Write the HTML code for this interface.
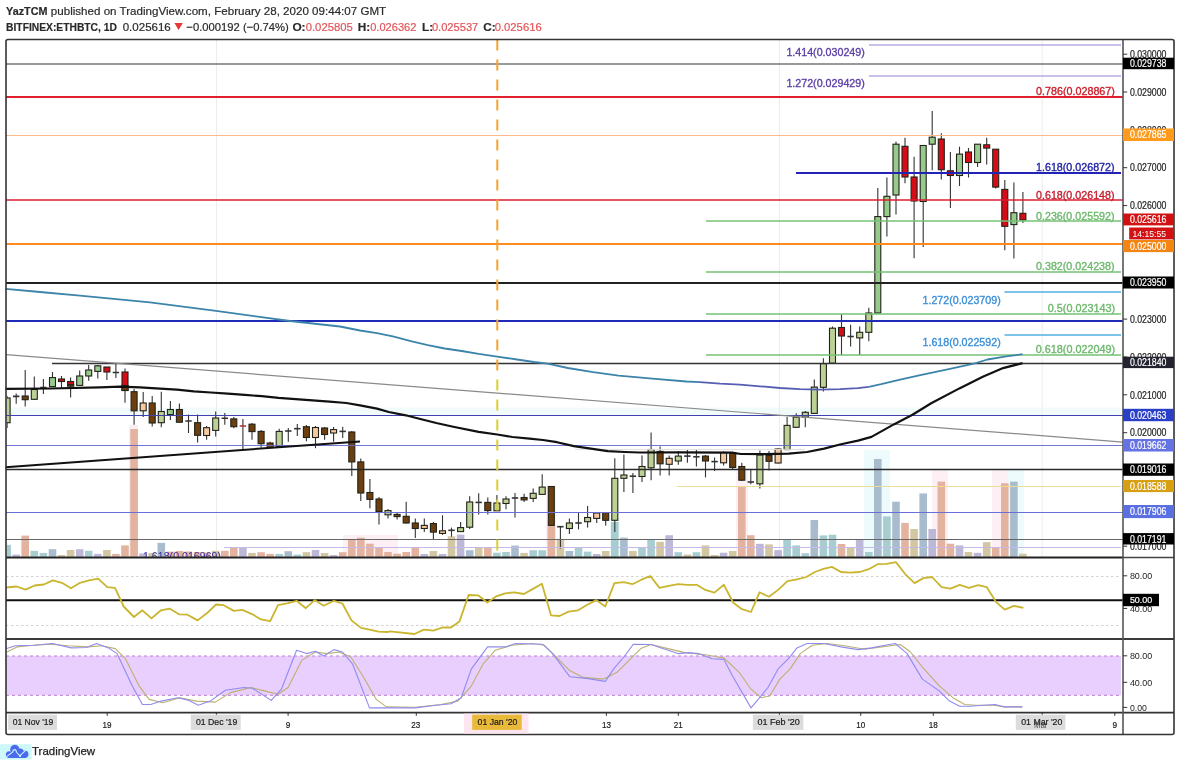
<!DOCTYPE html>
<html><head><meta charset="utf-8"><title>ETHBTC chart</title><style>html,body{margin:0;padding:0;background:#fff;width:1180px;height:768px;overflow:hidden;position:relative}</style></head><body>
<svg width="1180" height="768" viewBox="0 0 1180 768" style="position:absolute;left:0;top:0" font-family="Liberation Sans, sans-serif">
<rect width="1180" height="768" fill="#fff"/>
<defs><clipPath id="pc"><rect x="6.8" y="39.5" width="1116.2" height="517.5"/></clipPath></defs>
<g fill="#2a2a2a" stroke="#2a2a2a" stroke-width="0.2" font-size="11.8">
<text x="6.1" y="14.8" font-weight="bold" textLength="41.4" lengthAdjust="spacingAndGlyphs">YazTCM</text>
<text x="50.8" y="14.8" textLength="335.4" lengthAdjust="spacingAndGlyphs">published on TradingView.com, February 28, 2020 09:44:07 GMT</text>
<text x="6.1" y="30.5" font-weight="bold" textLength="110.8" lengthAdjust="spacingAndGlyphs">BITFINEX:ETHBTC, 1D</text>
<text x="122.7" y="30.5" textLength="48.1" lengthAdjust="spacingAndGlyphs">0.025616</text>
<text x="186.4" y="30.5" textLength="102.4" lengthAdjust="spacingAndGlyphs">−0.000192 (−0.74%)</text>
<text x="292.4" y="30.5" font-weight="bold">O:</text>
<text x="305.7" y="30.5" fill="#e2555a" stroke="#e2555a" textLength="47.1" lengthAdjust="spacingAndGlyphs">0.025805</text>
<text x="357.7" y="30.5" font-weight="bold">H:</text>
<text x="370.2" y="30.5" fill="#e2555a" stroke="#e2555a" textLength="46.2" lengthAdjust="spacingAndGlyphs">0.026362</text>
<text x="422.0" y="30.5" font-weight="bold">L:</text>
<text x="431.9" y="30.5" fill="#e2555a" stroke="#e2555a" textLength="46.4" lengthAdjust="spacingAndGlyphs">0.025537</text>
<text x="483.2" y="30.5" font-weight="bold">C:</text>
<text x="494.7" y="30.5" fill="#e2555a" stroke="#e2555a" textLength="47.0" lengthAdjust="spacingAndGlyphs">0.025616</text>
</g>
<path d="M174.4 23.1 L182.8 23.1 L178.6 30.1 Z" fill="#e53935"/>
<rect x="129" y="425" width="9" height="132.5" fill="#fbeef3"/>
<rect x="343" y="535" width="55" height="22.5" fill="#fdf0f4"/>
<rect x="546" y="486" width="10" height="71.5" fill="#fdf0f4"/>
<rect x="610" y="518" width="10" height="39.5" fill="#eefbfc"/>
<rect x="736" y="470" width="12" height="87.5" fill="#fdf0f4"/>
<rect x="864" y="450" width="26" height="107.5" fill="#eefbfc"/>
<rect x="932" y="470" width="16" height="87.5" fill="#fdf0f4"/>
<rect x="992" y="470" width="16" height="87.5" fill="#fdf0f4"/>
<rect x="1008" y="470" width="16" height="87.5" fill="#eefbfc"/>
<rect x="6.0" y="407.6" width="1117.0" height="7" fill="#f1fbfc"/>
<line x1="216.6" y1="39.5" x2="216.6" y2="557.5" stroke="#ececec" stroke-width="1"/>
<line x1="779.4" y1="39.5" x2="779.4" y2="557.5" stroke="#ececec" stroke-width="1"/>
<line x1="1042.2" y1="39.5" x2="1042.2" y2="557.5" stroke="#ececec" stroke-width="1"/>
<g clip-path="url(#pc)">
<rect x="3.3" y="544.9" width="7.6" height="11.9" fill="#a8cdd0"/>
<rect x="12.4" y="554.6" width="7.6" height="2.2" fill="#bdb8d8"/>
<rect x="21.4" y="535.6" width="7.6" height="21.2" fill="#e3b3a0"/>
<rect x="30.5" y="550.8" width="7.6" height="6.0" fill="#a8cdd0"/>
<rect x="39.6" y="552.9" width="7.6" height="3.9" fill="#a8cdd0"/>
<rect x="48.7" y="549.2" width="7.6" height="7.6" fill="#a9bccd"/>
<rect x="57.7" y="555" width="7.6" height="1.8" fill="#d3c7a3"/>
<rect x="66.8" y="550" width="7.6" height="6.8" fill="#d3c7a3"/>
<rect x="75.9" y="549.2" width="7.6" height="7.6" fill="#bdb8d8"/>
<rect x="84.9" y="550.8" width="7.6" height="6.0" fill="#a8cdd0"/>
<rect x="94.0" y="553.9" width="7.6" height="2.9" fill="#bdb8d8"/>
<rect x="103.1" y="550" width="7.6" height="6.8" fill="#d3c7a3"/>
<rect x="112.1" y="553.9" width="7.6" height="2.9" fill="#e3b3a0"/>
<rect x="121.2" y="545.4" width="7.6" height="11.4" fill="#e3b3a0"/>
<rect x="130.3" y="429" width="7.6" height="127.8" fill="#e3b3a0"/>
<rect x="139.3" y="553.4" width="7.6" height="3.4" fill="#bdb8d8"/>
<rect x="148.4" y="553" width="7.6" height="3.8" fill="#d3c7a3"/>
<rect x="157.5" y="542.9" width="7.6" height="13.9" fill="#a9bccd"/>
<rect x="166.6" y="551.6" width="7.6" height="5.2" fill="#e3b3a0"/>
<rect x="175.6" y="551" width="7.6" height="5.8" fill="#e3b3a0"/>
<rect x="184.7" y="551.5" width="7.6" height="5.3" fill="#e3b3a0"/>
<rect x="193.8" y="552" width="7.6" height="4.8" fill="#e3b3a0"/>
<rect x="202.8" y="552.5" width="7.6" height="4.3" fill="#e3b3a0"/>
<rect x="211.9" y="550.8" width="7.6" height="6.0" fill="#d3c7a3"/>
<rect x="221.0" y="550.8" width="7.6" height="6.0" fill="#e3b3a0"/>
<rect x="230.0" y="547.5" width="7.6" height="9.3" fill="#e3b3a0"/>
<rect x="239.1" y="547.5" width="7.6" height="9.3" fill="#bdb8d8"/>
<rect x="248.2" y="552.9" width="7.6" height="3.9" fill="#d3c7a3"/>
<rect x="257.3" y="552.2" width="7.6" height="4.6" fill="#e3b3a0"/>
<rect x="266.3" y="553.9" width="7.6" height="2.9" fill="#e3b3a0"/>
<rect x="275.4" y="553.9" width="7.6" height="2.9" fill="#a8cdd0"/>
<rect x="284.5" y="551.2" width="7.6" height="5.6" fill="#a9bccd"/>
<rect x="293.5" y="554.6" width="7.6" height="2.2" fill="#a8cdd0"/>
<rect x="302.6" y="552.2" width="7.6" height="4.6" fill="#d3c7a3"/>
<rect x="311.7" y="550" width="7.6" height="6.8" fill="#bdb8d8"/>
<rect x="320.8" y="553" width="7.6" height="3.8" fill="#d3c7a3"/>
<rect x="329.8" y="555" width="7.6" height="1.8" fill="#bdb8d8"/>
<rect x="338.9" y="552.2" width="7.6" height="4.6" fill="#e3b3a0"/>
<rect x="348.0" y="539.3" width="7.6" height="17.5" fill="#e3b3a0"/>
<rect x="357.0" y="537.6" width="7.6" height="19.2" fill="#e3b3a0"/>
<rect x="366.1" y="543.7" width="7.6" height="13.1" fill="#e3b3a0"/>
<rect x="375.2" y="547.5" width="7.6" height="9.3" fill="#e3b3a0"/>
<rect x="384.2" y="552" width="7.6" height="4.8" fill="#e3b3a0"/>
<rect x="393.3" y="553.7" width="7.6" height="3.1" fill="#e3b3a0"/>
<rect x="402.4" y="552" width="7.6" height="4.8" fill="#e3b3a0"/>
<rect x="411.5" y="547.6" width="7.6" height="9.2" fill="#e3b3a0"/>
<rect x="420.5" y="554" width="7.6" height="2.8" fill="#bdb8d8"/>
<rect x="429.6" y="551" width="7.6" height="5.8" fill="#d3c7a3"/>
<rect x="438.7" y="554" width="7.6" height="2.8" fill="#bdb8d8"/>
<rect x="447.7" y="536.3" width="7.6" height="20.5" fill="#d3c7a3"/>
<rect x="456.8" y="534.6" width="7.6" height="22.2" fill="#bdb8d8"/>
<rect x="465.9" y="550.2" width="7.6" height="6.6" fill="#a9bccd"/>
<rect x="474.9" y="547.6" width="7.6" height="9.2" fill="#d3c7a3"/>
<rect x="484.0" y="547.6" width="7.6" height="9.2" fill="#e3b3a0"/>
<rect x="493.1" y="552.7" width="7.6" height="4.1" fill="#a8cdd0"/>
<rect x="502.2" y="552" width="7.6" height="4.8" fill="#a8cdd0"/>
<rect x="511.2" y="545.6" width="7.6" height="11.2" fill="#a9bccd"/>
<rect x="520.3" y="552.9" width="7.6" height="3.9" fill="#d3c7a3"/>
<rect x="529.4" y="550.2" width="7.6" height="6.6" fill="#a8cdd0"/>
<rect x="538.4" y="550.2" width="7.6" height="6.6" fill="#a8cdd0"/>
<rect x="547.5" y="526.1" width="7.6" height="30.7" fill="#e3b3a0"/>
<rect x="556.6" y="538.8" width="7.6" height="18.0" fill="#d3c7a3"/>
<rect x="565.6" y="551" width="7.6" height="5.8" fill="#a9bccd"/>
<rect x="574.7" y="547.6" width="7.6" height="9.2" fill="#a8cdd0"/>
<rect x="583.8" y="551.6" width="7.6" height="5.2" fill="#a8cdd0"/>
<rect x="592.9" y="554" width="7.6" height="2.8" fill="#bdb8d8"/>
<rect x="601.9" y="551" width="7.6" height="5.8" fill="#d3c7a3"/>
<rect x="611.0" y="522" width="7.6" height="34.8" fill="#a8cdd0"/>
<rect x="620.1" y="537.6" width="7.6" height="19.2" fill="#a9bccd"/>
<rect x="629.1" y="551" width="7.6" height="5.8" fill="#d3c7a3"/>
<rect x="638.2" y="547.3" width="7.6" height="9.5" fill="#a8cdd0"/>
<rect x="647.3" y="539.4" width="7.6" height="17.4" fill="#a8cdd0"/>
<rect x="656.3" y="541.8" width="7.6" height="15.0" fill="#d3c7a3"/>
<rect x="665.4" y="535.2" width="7.6" height="21.6" fill="#bdb8d8"/>
<rect x="674.5" y="552.2" width="7.6" height="4.6" fill="#a8cdd0"/>
<rect x="683.6" y="554.5" width="7.6" height="2.3" fill="#d3c7a3"/>
<rect x="692.6" y="552.2" width="7.6" height="4.6" fill="#a8cdd0"/>
<rect x="701.7" y="545.4" width="7.6" height="11.4" fill="#d3c7a3"/>
<rect x="710.8" y="555" width="7.6" height="1.8" fill="#d3c7a3"/>
<rect x="719.8" y="552.7" width="7.6" height="4.1" fill="#bdb8d8"/>
<rect x="728.9" y="551" width="7.6" height="5.8" fill="#d3c7a3"/>
<rect x="738.0" y="486.5" width="7.6" height="70.3" fill="#e3b3a0"/>
<rect x="747.0" y="535.2" width="7.6" height="21.6" fill="#e3b3a0"/>
<rect x="756.1" y="543.8" width="7.6" height="13.0" fill="#bdb8d8"/>
<rect x="765.2" y="544.4" width="7.6" height="12.4" fill="#d3c7a3"/>
<rect x="774.3" y="550.1" width="7.6" height="6.7" fill="#bdb8d8"/>
<rect x="783.3" y="539.7" width="7.6" height="17.1" fill="#a8cdd0"/>
<rect x="792.4" y="545.4" width="7.6" height="11.4" fill="#a8cdd0"/>
<rect x="801.5" y="553.2" width="7.6" height="3.6" fill="#a8cdd0"/>
<rect x="810.5" y="520" width="7.6" height="36.8" fill="#a9bccd"/>
<rect x="819.6" y="535.4" width="7.6" height="21.4" fill="#a8cdd0"/>
<rect x="828.7" y="534.7" width="7.6" height="22.1" fill="#a8cdd0"/>
<rect x="837.7" y="544" width="7.6" height="12.8" fill="#e3b3a0"/>
<rect x="846.8" y="547.3" width="7.6" height="9.5" fill="#d3c7a3"/>
<rect x="855.9" y="539.7" width="7.6" height="17.1" fill="#bdb8d8"/>
<rect x="865.0" y="552" width="7.6" height="4.8" fill="#a8cdd0"/>
<rect x="874.0" y="459" width="7.6" height="97.8" fill="#a9bccd"/>
<rect x="883.1" y="516.4" width="7.6" height="40.4" fill="#a8cdd0"/>
<rect x="892.2" y="501.7" width="7.6" height="55.1" fill="#a9bccd"/>
<rect x="901.2" y="522.9" width="7.6" height="33.9" fill="#e3b3a0"/>
<rect x="910.3" y="529" width="7.6" height="27.8" fill="#d3c7a3"/>
<rect x="919.4" y="493.4" width="7.6" height="63.4" fill="#a9bccd"/>
<rect x="928.4" y="529" width="7.6" height="27.8" fill="#bdb8d8"/>
<rect x="937.5" y="481.6" width="7.6" height="75.2" fill="#e3b3a0"/>
<rect x="946.6" y="543.7" width="7.6" height="13.1" fill="#e3b3a0"/>
<rect x="955.7" y="545.4" width="7.6" height="11.4" fill="#bdb8d8"/>
<rect x="964.7" y="552" width="7.6" height="4.8" fill="#d3c7a3"/>
<rect x="973.8" y="552.8" width="7.6" height="4.0" fill="#bdb8d8"/>
<rect x="982.9" y="542.1" width="7.6" height="14.7" fill="#d3c7a3"/>
<rect x="991.9" y="547.3" width="7.6" height="9.5" fill="#e3b3a0"/>
<rect x="1001.0" y="483.2" width="7.6" height="73.6" fill="#e3b3a0"/>
<rect x="1010.1" y="481.6" width="7.6" height="75.2" fill="#a9bccd"/>
<rect x="1019.1" y="553.7" width="7.6" height="3.1" fill="#d3c7a3"/>
</g>
<g stroke="#222218" stroke-width="1.1" clip-path="url(#pc)">
<line x1="7.1" y1="396" x2="7.1" y2="428" stroke="#333"/>
<rect x="4.1" y="398" width="6" height="24.7" fill="#bcd196"/>
<line x1="16.2" y1="393.6" x2="16.2" y2="403.7" stroke="#333"/>
<line x1="13.0" y1="396.4" x2="19.4" y2="396.4" stroke="#333" stroke-width="1.6"/>
<line x1="25.2" y1="370" x2="25.2" y2="406.4" stroke="#333"/>
<rect x="22.2" y="396" width="6" height="3.7" fill="#6e3f0e"/>
<line x1="34.3" y1="376.4" x2="34.3" y2="400" stroke="#333"/>
<rect x="31.3" y="389.5" width="6" height="9.8" fill="#bcd196"/>
<line x1="43.4" y1="379" x2="43.4" y2="394" stroke="#333"/>
<line x1="40.2" y1="387.5" x2="46.6" y2="387.5" stroke="#333" stroke-width="1.6"/>
<line x1="52.5" y1="372" x2="52.5" y2="387" stroke="#333"/>
<rect x="49.5" y="377.6" width="6" height="9.0" fill="#97ca8d"/>
<line x1="61.5" y1="376" x2="61.5" y2="388" stroke="#333"/>
<rect x="58.5" y="379" width="6" height="2.5" fill="#d60d17"/>
<line x1="70.6" y1="377.6" x2="70.6" y2="397.6" stroke="#333"/>
<rect x="67.6" y="381.5" width="6" height="4.5" fill="#d60d17"/>
<rect x="67.6" y="384.4" width="6" height="1.6" fill="#6e3f0e"/>
<line x1="79.7" y1="370.5" x2="79.7" y2="386" stroke="#333"/>
<rect x="76.7" y="376" width="6" height="9.4" fill="#97ca8d"/>
<line x1="88.7" y1="365" x2="88.7" y2="380.7" stroke="#333"/>
<rect x="85.7" y="370" width="6" height="6.0" fill="#97ca8d"/>
<line x1="97.8" y1="365" x2="97.8" y2="378.6" stroke="#333"/>
<rect x="94.8" y="365.8" width="6" height="5.6" fill="#97ca8d"/>
<line x1="106.9" y1="367" x2="106.9" y2="380" stroke="#333"/>
<rect x="103.9" y="367" width="6" height="5.0" fill="#d60d17"/>
<line x1="115.9" y1="363.4" x2="115.9" y2="378" stroke="#333"/>
<line x1="112.7" y1="372.5" x2="119.1" y2="372.5" stroke="#333" stroke-width="1.6"/>
<line x1="125.0" y1="368.5" x2="125.0" y2="402.7" stroke="#333"/>
<rect x="122.0" y="372" width="6" height="18.5" fill="#d60d17"/>
<rect x="122.0" y="385.5" width="6" height="5.0" fill="#6e3f0e"/>
<line x1="134.1" y1="389" x2="134.1" y2="424.7" stroke="#333"/>
<rect x="131.1" y="391.7" width="6" height="19.1" fill="#6e3f0e"/>
<line x1="143.2" y1="392" x2="143.2" y2="417" stroke="#333"/>
<rect x="140.2" y="403" width="6" height="7.8" fill="#f6c9a0"/>
<line x1="152.2" y1="396" x2="152.2" y2="426.4" stroke="#333"/>
<rect x="149.2" y="403" width="6" height="20.0" fill="#6e3f0e"/>
<line x1="161.3" y1="391.7" x2="161.3" y2="427.3" stroke="#333"/>
<rect x="158.3" y="411.5" width="6" height="11.2" fill="#bcd196"/>
<line x1="170.4" y1="401" x2="170.4" y2="420" stroke="#333"/>
<rect x="167.4" y="409.5" width="6" height="5.1" fill="#97ca8d"/>
<line x1="179.4" y1="403.6" x2="179.4" y2="423" stroke="#333"/>
<rect x="176.4" y="409.5" width="6" height="12.7" fill="#6e3f0e"/>
<line x1="188.5" y1="414.6" x2="188.5" y2="432.9" stroke="#333"/>
<line x1="185.3" y1="421" x2="191.7" y2="421" stroke="#333" stroke-width="1.6"/>
<line x1="197.6" y1="414.6" x2="197.6" y2="442.5" stroke="#333"/>
<rect x="194.6" y="422.7" width="6" height="12.6" fill="#6e3f0e"/>
<line x1="206.6" y1="426" x2="206.6" y2="439.8" stroke="#333"/>
<rect x="203.6" y="427.7" width="6" height="7.8" fill="#f6c9a0"/>
<line x1="215.7" y1="411.5" x2="215.7" y2="436.5" stroke="#333"/>
<rect x="212.7" y="418" width="6" height="12.4" fill="#bcd196"/>
<line x1="224.8" y1="413" x2="224.8" y2="424.8" stroke="#333"/>
<line x1="221.6" y1="418.3" x2="228.0" y2="418.3" stroke="#333" stroke-width="1.6"/>
<line x1="233.8" y1="417" x2="233.8" y2="428.3" stroke="#333"/>
<rect x="230.8" y="418.9" width="6" height="7.8" fill="#6e3f0e"/>
<line x1="242.9" y1="419" x2="242.9" y2="451" stroke="#333"/>
<line x1="239.7" y1="426" x2="246.1" y2="426" stroke="#b03030" stroke-width="1.6"/>
<line x1="252.0" y1="423" x2="252.0" y2="439.8" stroke="#333"/>
<rect x="249.0" y="424.2" width="6" height="7.4" fill="#6e3f0e"/>
<line x1="261.1" y1="430" x2="261.1" y2="447.6" stroke="#333"/>
<rect x="258.1" y="431.4" width="6" height="12.3" fill="#6e3f0e"/>
<line x1="270.1" y1="441.8" x2="270.1" y2="448" stroke="#333"/>
<rect x="267.1" y="443" width="6" height="4.6" fill="#6e3f0e"/>
<line x1="279.2" y1="428.7" x2="279.2" y2="447" stroke="#333"/>
<rect x="276.2" y="431.4" width="6" height="15.2" fill="#bcd196"/>
<line x1="288.3" y1="428" x2="288.3" y2="441.8" stroke="#333"/>
<line x1="285.1" y1="431" x2="291.5" y2="431" stroke="#333" stroke-width="1.6"/>
<line x1="297.3" y1="424" x2="297.3" y2="436" stroke="#333"/>
<line x1="294.1" y1="428.7" x2="300.5" y2="428.7" stroke="#333" stroke-width="1.6"/>
<line x1="306.4" y1="425" x2="306.4" y2="441.2" stroke="#333"/>
<rect x="303.4" y="426.7" width="6" height="10.8" fill="#6e3f0e"/>
<line x1="315.5" y1="426" x2="315.5" y2="448.2" stroke="#333"/>
<rect x="312.5" y="427.5" width="6" height="10.0" fill="#f6c9a0"/>
<line x1="324.6" y1="427" x2="324.6" y2="439.8" stroke="#333"/>
<rect x="321.6" y="428" width="6" height="6.5" fill="#6e3f0e"/>
<line x1="333.6" y1="427" x2="333.6" y2="441.8" stroke="#333"/>
<rect x="330.6" y="429.6" width="6" height="3.4" fill="#f6c9a0"/>
<line x1="342.7" y1="426.7" x2="342.7" y2="437.9" stroke="#333"/>
<line x1="339.5" y1="431.4" x2="345.9" y2="431.4" stroke="#333" stroke-width="1.6"/>
<line x1="351.8" y1="431" x2="351.8" y2="476" stroke="#333"/>
<rect x="348.8" y="432" width="6" height="29.9" fill="#6e3f0e"/>
<line x1="360.8" y1="458.4" x2="360.8" y2="501" stroke="#333"/>
<rect x="357.8" y="461.9" width="6" height="31.1" fill="#6e3f0e"/>
<line x1="369.9" y1="478.9" x2="369.9" y2="508.2" stroke="#333"/>
<rect x="366.9" y="492.5" width="6" height="6.9" fill="#6e3f0e"/>
<line x1="379.0" y1="497" x2="379.0" y2="524.4" stroke="#333"/>
<rect x="376.0" y="499" width="6" height="12.5" fill="#6e3f0e"/>
<line x1="388.0" y1="509" x2="388.0" y2="518.4" stroke="#333"/>
<rect x="385.0" y="510.6" width="6" height="4.2" fill="#bcd196"/>
<line x1="397.1" y1="513" x2="397.1" y2="519.4" stroke="#333"/>
<rect x="394.1" y="514.4" width="6" height="2.2" fill="#6e3f0e"/>
<line x1="406.2" y1="501.7" x2="406.2" y2="523.5" stroke="#333"/>
<rect x="403.2" y="516.3" width="6" height="6.7" fill="#6e3f0e"/>
<line x1="415.3" y1="518.4" x2="415.3" y2="538.1" stroke="#333"/>
<rect x="412.3" y="523" width="6" height="5.5" fill="#6e3f0e"/>
<line x1="424.3" y1="518.4" x2="424.3" y2="532.1" stroke="#333"/>
<rect x="421.3" y="525.4" width="6" height="3.1" fill="#f6c9a0"/>
<line x1="433.4" y1="522" x2="433.4" y2="539.4" stroke="#333"/>
<rect x="430.4" y="523.6" width="6" height="8.5" fill="#6e3f0e"/>
<line x1="442.5" y1="515.2" x2="442.5" y2="534.9" stroke="#333"/>
<rect x="439.5" y="530.8" width="6" height="2.6" fill="#f6c9a0"/>
<line x1="451.5" y1="527.6" x2="451.5" y2="536.7" stroke="#333"/>
<line x1="448.3" y1="530.3" x2="454.7" y2="530.3" stroke="#333" stroke-width="1.6"/>
<line x1="460.6" y1="522.1" x2="460.6" y2="532" stroke="#333"/>
<rect x="457.6" y="527.6" width="6" height="4.0" fill="#bcd196"/>
<line x1="469.7" y1="496.2" x2="469.7" y2="529" stroke="#333"/>
<rect x="466.7" y="502" width="6" height="25.2" fill="#bcd196"/>
<line x1="478.7" y1="493.3" x2="478.7" y2="514.4" stroke="#333"/>
<line x1="475.5" y1="502.4" x2="481.9" y2="502.4" stroke="#333" stroke-width="1.6"/>
<line x1="487.8" y1="497.5" x2="487.8" y2="514.4" stroke="#333"/>
<rect x="484.8" y="502.4" width="6" height="8.2" fill="#6e3f0e"/>
<line x1="496.9" y1="495.1" x2="496.9" y2="511" stroke="#333"/>
<rect x="493.9" y="503" width="6" height="7.8" fill="#bcd196"/>
<line x1="506.0" y1="496.2" x2="506.0" y2="509.3" stroke="#333"/>
<rect x="503.0" y="499" width="6" height="4.5" fill="#bcd196"/>
<line x1="515.0" y1="493" x2="515.0" y2="517.5" stroke="#333"/>
<line x1="511.8" y1="498" x2="518.2" y2="498" stroke="#333" stroke-width="1.6"/>
<line x1="524.1" y1="493.8" x2="524.1" y2="502" stroke="#333"/>
<rect x="521.1" y="497.5" width="6" height="2.4" fill="#6e3f0e"/>
<line x1="533.2" y1="488.4" x2="533.2" y2="502" stroke="#333"/>
<rect x="530.2" y="493.3" width="6" height="5.1" fill="#bcd196"/>
<line x1="542.2" y1="474.3" x2="542.2" y2="495" stroke="#333"/>
<rect x="539.2" y="487.1" width="6" height="7.3" fill="#bcd196"/>
<line x1="551.3" y1="486" x2="551.3" y2="526" stroke="#333"/>
<rect x="548.3" y="486.5" width="6" height="38.9" fill="#6e3f0e"/>
<line x1="560.4" y1="526.7" x2="560.4" y2="548.5" stroke="#333"/>
<line x1="557.2" y1="526.7" x2="563.6" y2="526.7" stroke="#333" stroke-width="1.6"/>
<line x1="569.4" y1="518.4" x2="569.4" y2="534" stroke="#333"/>
<rect x="566.4" y="523" width="6" height="5.5" fill="#bcd196"/>
<line x1="578.5" y1="512" x2="578.5" y2="529.4" stroke="#333"/>
<line x1="575.3" y1="523" x2="581.7" y2="523" stroke="#333" stroke-width="1.6"/>
<line x1="587.6" y1="506" x2="587.6" y2="527.6" stroke="#333"/>
<rect x="584.6" y="517.5" width="6" height="4.2" fill="#bcd196"/>
<line x1="596.7" y1="512" x2="596.7" y2="523" stroke="#333"/>
<rect x="593.7" y="513" width="6" height="5.4" fill="#f6c9a0"/>
<line x1="605.7" y1="512" x2="605.7" y2="525.7" stroke="#333"/>
<rect x="602.7" y="512.6" width="6" height="7.7" fill="#6e3f0e"/>
<line x1="614.8" y1="458.3" x2="614.8" y2="532.1" stroke="#333"/>
<rect x="611.8" y="478.3" width="6" height="42.0" fill="#bcd196"/>
<line x1="623.9" y1="454.6" x2="623.9" y2="492" stroke="#333"/>
<rect x="620.9" y="475" width="6" height="3.3" fill="#bcd196"/>
<line x1="632.9" y1="472.9" x2="632.9" y2="493" stroke="#333"/>
<line x1="629.7" y1="476.2" x2="636.1" y2="476.2" stroke="#333" stroke-width="1.6"/>
<line x1="642.0" y1="455.6" x2="642.0" y2="482" stroke="#333"/>
<rect x="639.0" y="466.5" width="6" height="10.0" fill="#bcd196"/>
<line x1="651.1" y1="432.4" x2="651.1" y2="480.2" stroke="#333"/>
<rect x="648.1" y="449.5" width="6" height="18.3" fill="#bcd196"/>
<line x1="660.1" y1="446.4" x2="660.1" y2="475.6" stroke="#333"/>
<rect x="657.1" y="451.4" width="6" height="12.4" fill="#6e3f0e"/>
<line x1="669.2" y1="455.6" x2="669.2" y2="475.6" stroke="#333"/>
<rect x="666.2" y="458.3" width="6" height="6.0" fill="#f6c9a0"/>
<line x1="678.3" y1="451" x2="678.3" y2="464.7" stroke="#333"/>
<rect x="675.3" y="456.1" width="6" height="4.9" fill="#bcd196"/>
<line x1="687.4" y1="450" x2="687.4" y2="462.8" stroke="#333"/>
<line x1="684.1" y1="456.1" x2="690.6" y2="456.1" stroke="#333" stroke-width="1.6"/>
<line x1="696.4" y1="450" x2="696.4" y2="466.5" stroke="#333"/>
<line x1="693.2" y1="456.8" x2="699.6" y2="456.8" stroke="#333" stroke-width="1.6"/>
<line x1="705.5" y1="455" x2="705.5" y2="477.4" stroke="#333"/>
<rect x="702.5" y="456.1" width="6" height="4.9" fill="#6e3f0e"/>
<line x1="714.6" y1="457.4" x2="714.6" y2="471" stroke="#333"/>
<line x1="711.4" y1="461.6" x2="717.8" y2="461.6" stroke="#333" stroke-width="1.6"/>
<line x1="723.6" y1="451.4" x2="723.6" y2="465.6" stroke="#333"/>
<rect x="720.6" y="452.5" width="6" height="10.3" fill="#f6c9a0"/>
<line x1="732.7" y1="451.4" x2="732.7" y2="469.2" stroke="#333"/>
<rect x="729.7" y="452.5" width="6" height="14.9" fill="#6e3f0e"/>
<line x1="741.8" y1="462.8" x2="741.8" y2="481" stroke="#333"/>
<rect x="738.8" y="466.5" width="6" height="13.7" fill="#6e3f0e"/>
<line x1="750.8" y1="469.2" x2="750.8" y2="484.2" stroke="#333"/>
<line x1="747.6" y1="482" x2="754.0" y2="482" stroke="#333" stroke-width="1.6"/>
<line x1="759.9" y1="450.6" x2="759.9" y2="488.4" stroke="#333"/>
<rect x="756.9" y="455" width="6" height="28.8" fill="#bcd196"/>
<line x1="769.0" y1="451" x2="769.0" y2="470.4" stroke="#333"/>
<rect x="766.0" y="455.6" width="6" height="5.7" fill="#6e3f0e"/>
<line x1="778.1" y1="448.3" x2="778.1" y2="463.6" stroke="#333"/>
<rect x="775.1" y="449" width="6" height="14.0" fill="#f6c9a0"/>
<line x1="787.1" y1="417.1" x2="787.1" y2="450" stroke="#333"/>
<rect x="784.1" y="425.4" width="6" height="24.2" fill="#bcd196"/>
<line x1="796.2" y1="413.3" x2="796.2" y2="428" stroke="#333"/>
<rect x="793.2" y="417.1" width="6" height="10.2" fill="#bcd196"/>
<line x1="805.3" y1="411" x2="805.3" y2="427.3" stroke="#333"/>
<rect x="802.3" y="412.3" width="6" height="4.8" fill="#bcd196"/>
<line x1="814.3" y1="379.5" x2="814.3" y2="414" stroke="#333"/>
<rect x="811.3" y="387.1" width="6" height="26.3" fill="#bcd196"/>
<line x1="823.4" y1="358.3" x2="823.4" y2="391.5" stroke="#333"/>
<rect x="820.4" y="363.6" width="6" height="23.7" fill="#bcd196"/>
<line x1="832.5" y1="326.5" x2="832.5" y2="363.5" stroke="#333"/>
<rect x="829.5" y="328.2" width="6" height="35.0" fill="#bcd196"/>
<line x1="841.5" y1="314.3" x2="841.5" y2="355" stroke="#333"/>
<rect x="838.5" y="327.5" width="6" height="8.5" fill="#d60d17"/>
<line x1="850.6" y1="324.8" x2="850.6" y2="346.4" stroke="#333"/>
<line x1="847.4" y1="336.5" x2="853.8" y2="336.5" stroke="#333" stroke-width="1.6"/>
<line x1="859.7" y1="326.4" x2="859.7" y2="355" stroke="#333"/>
<rect x="856.7" y="332.3" width="6" height="5.6" fill="#bcd196"/>
<line x1="868.8" y1="307.8" x2="868.8" y2="341.3" stroke="#333"/>
<rect x="865.8" y="313" width="6" height="19.3" fill="#bcd196"/>
<line x1="877.8" y1="188" x2="877.8" y2="313.5" stroke="#333"/>
<rect x="874.8" y="216.6" width="6" height="96.4" fill="#97ca8d"/>
<line x1="886.9" y1="177.5" x2="886.9" y2="236.6" stroke="#333"/>
<rect x="883.9" y="196.3" width="6" height="20.3" fill="#97ca8d"/>
<line x1="896.0" y1="141.6" x2="896.0" y2="214.5" stroke="#333"/>
<rect x="893.0" y="144.2" width="6" height="50.8" fill="#97ca8d"/>
<line x1="905.0" y1="137.7" x2="905.0" y2="183.3" stroke="#333"/>
<rect x="902.0" y="146.3" width="6" height="30.7" fill="#d60d17"/>
<line x1="914.1" y1="156.7" x2="914.1" y2="258.2" stroke="#333"/>
<rect x="911.1" y="177" width="6" height="24.0" fill="#d60d17"/>
<line x1="923.2" y1="145" x2="923.2" y2="247" stroke="#333"/>
<rect x="920.2" y="145.5" width="6" height="56.0" fill="#97ca8d"/>
<line x1="932.2" y1="111" x2="932.2" y2="170.3" stroke="#333"/>
<rect x="929.2" y="137.2" width="6" height="7.0" fill="#97ca8d"/>
<line x1="941.3" y1="133.3" x2="941.3" y2="179.4" stroke="#333"/>
<rect x="938.3" y="139" width="6" height="30.7" fill="#d60d17"/>
<line x1="950.4" y1="152" x2="950.4" y2="208" stroke="#333"/>
<rect x="947.4" y="170.8" width="6" height="4.7" fill="#d60d17"/>
<line x1="959.5" y1="146.8" x2="959.5" y2="185.9" stroke="#333"/>
<rect x="956.5" y="154.1" width="6" height="21.4" fill="#97ca8d"/>
<line x1="968.5" y1="148.1" x2="968.5" y2="177.5" stroke="#333"/>
<rect x="965.5" y="152" width="6" height="10.5" fill="#d60d17"/>
<line x1="977.6" y1="144" x2="977.6" y2="167.1" stroke="#333"/>
<rect x="974.6" y="144.2" width="6" height="18.3" fill="#97ca8d"/>
<line x1="986.7" y1="137.7" x2="986.7" y2="164.5" stroke="#333"/>
<rect x="983.7" y="144.8" width="6" height="3.3" fill="#d60d17"/>
<line x1="995.7" y1="149" x2="995.7" y2="188.6" stroke="#333"/>
<rect x="992.7" y="149.2" width="6" height="37.9" fill="#d60d17"/>
<line x1="1004.8" y1="180" x2="1004.8" y2="250.2" stroke="#333"/>
<rect x="1001.8" y="189.4" width="6" height="36.9" fill="#d60d17"/>
<line x1="1013.9" y1="182.5" x2="1013.9" y2="258.5" stroke="#333"/>
<rect x="1010.9" y="212.7" width="6" height="11.9" fill="#97ca8d"/>
<line x1="1022.9" y1="191.9" x2="1022.9" y2="223.1" stroke="#333"/>
<rect x="1019.9" y="213.3" width="6" height="6.7" fill="#d60d17"/>
</g>
<line x1="869" y1="45.0" x2="1121" y2="45.0" stroke="#b9a9e3" stroke-width="1.5"/>
<line x1="6.0" y1="64.0" x2="1123.0" y2="64.0" stroke="#777" stroke-width="1.5"/>
<line x1="869" y1="76.0" x2="1121" y2="76.0" stroke="#b9a9e3" stroke-width="1.5"/>
<line x1="6.0" y1="97.0" x2="1123.0" y2="97.0" stroke="#e0202c" stroke-width="2.2"/>
<line x1="6.0" y1="135.5" x2="1123.0" y2="135.5" stroke="#ffb98a" stroke-width="1.2"/>
<line x1="796" y1="173.0" x2="1121" y2="173.0" stroke="#2323b8" stroke-width="2.0"/>
<line x1="6.0" y1="200.0" x2="1123.0" y2="200.0" stroke="#dc1e32" stroke-width="1.6"/>
<line x1="706" y1="221.0" x2="1121" y2="221.0" stroke="#74c274" stroke-width="1.6"/>
<line x1="6.0" y1="244.0" x2="1123.0" y2="244.0" stroke="#ff8a1e" stroke-width="2.2"/>
<line x1="706" y1="272.0" x2="1121" y2="272.0" stroke="#74c274" stroke-width="1.6"/>
<line x1="6.0" y1="283.0" x2="1123.0" y2="283.0" stroke="#222" stroke-width="1.8"/>
<line x1="1004.5" y1="292.0" x2="1121" y2="292.0" stroke="#4fb0e0" stroke-width="1.5"/>
<line x1="706" y1="314.0" x2="1121" y2="314.0" stroke="#74c274" stroke-width="1.6"/>
<line x1="6.0" y1="321.0" x2="1123.0" y2="321.0" stroke="#1f2ab8" stroke-width="2.0"/>
<line x1="1004.5" y1="335.0" x2="1121" y2="335.0" stroke="#4fb0e0" stroke-width="1.5"/>
<line x1="706" y1="355.0" x2="1121" y2="355.0" stroke="#74c274" stroke-width="1.6"/>
<line x1="52" y1="363.5" x2="1123.0" y2="363.5" stroke="#333" stroke-width="1.3"/>
<line x1="6.0" y1="415.5" x2="1123.0" y2="415.5" stroke="#3f42ad" stroke-width="1.0"/>
<line x1="6.0" y1="445.5" x2="1123.0" y2="445.5" stroke="#6266d2" stroke-width="0.9"/>
<line x1="6.0" y1="469.5" x2="1123.0" y2="469.5" stroke="#2a2a2a" stroke-width="1.3"/>
<line x1="677" y1="486.5" x2="1121" y2="486.5" stroke="#ecdd96" stroke-width="1.0"/>
<line x1="6.0" y1="512.5" x2="1123.0" y2="512.5" stroke="#6a6ed8" stroke-width="1.0"/>
<line x1="6.0" y1="539.5" x2="1123.0" y2="539.5" stroke="#666" stroke-width="1.2"/>
<line x1="224" y1="547.5" x2="1121" y2="547.5" stroke="#c4b9e8" stroke-width="1.1"/>
<line x1="575" y1="449.4" x2="805" y2="449.4" stroke="#e2dede" stroke-width="1"/>
<line x1="6.0" y1="354.6" x2="1123.0" y2="442.1" stroke="#8a8a8a" stroke-width="1.2"/>
<line x1="5.5" y1="467.2" x2="360" y2="441.4" stroke="#111" stroke-width="2"/>
<polyline points="5.5,288.8 40.0,292.0 80.0,295.6 150.0,302.4 216.0,310.8 290.0,321.0 340.0,326.5 360.0,330.5 377.0,333.2 393.9,336.6 410.8,341.2 427.8,345.1 444.7,348.5 461.7,351.0 478.6,353.9 495.6,356.4 517.0,359.5 533.9,362.0 547.5,363.7 567.8,368.0 593.2,372.2 618.6,375.6 652.5,378.6 686.4,381.5 700.0,382.2" fill="none" stroke="#3d84aa" stroke-width="1.8" stroke-linejoin="round" />
<polyline points="700.0,382.2 720.0,383.7 740.0,384.6 760.0,386.3 780.0,388.0 800.0,389.2 820.0,389.7 840.0,389.2 857.8,388.1 868.8,386.9" fill="none" stroke="#565eb2" stroke-width="1.8" stroke-linejoin="round" />
<polyline points="868.8,386.9 881.2,384.2 896.9,380.3 920.3,375.2 950.0,368.9 975.0,363.4 987.5,359.5 1006.2,356.4 1022.5,354.2" fill="none" stroke="#3d84aa" stroke-width="1.8" stroke-linejoin="round" />
<polyline points="5.5,388.8 50.0,388.5 100.0,387.3 120.0,386.6 140.0,387.3 160.0,388.6 177.0,389.7 193.9,391.4 210.8,392.5 227.8,393.6 244.7,394.8 261.7,396.2 278.6,397.9 295.6,399.1 312.5,400.4 329.5,401.6 346.4,403.0 360.0,405.3 377.0,408.6 388.8,412.0 405.8,415.3 419.3,418.7 436.3,423.0 453.2,426.7 478.6,431.8 497.3,434.5 512.5,437.0 529.5,438.7 543.0,440.0 557.0,442.2 573.9,446.1 590.8,448.6 607.8,451.2 624.7,452.0 640.0,452.5 680.0,452.3 730.8,452.6 741.0,454.0 764.7,454.2 788.5,453.6 807.1,452.0 824.1,448.6 841.0,444.3 858.0,440.6 871.5,436.9 893.8,424.4 912.5,414.7 931.2,403.3 959.4,388.4 982.8,376.7 1003.1,368.1 1022.5,363.1" fill="none" stroke="#111" stroke-width="2.2" stroke-linejoin="round" />
<line x1="497.3" y1="39.5" x2="497.3" y2="378" stroke="#f5a331" stroke-width="2" stroke-dasharray="11 9"/>
<line x1="497.3" y1="378" x2="497.3" y2="557.5" stroke="#d9cf35" stroke-width="2" stroke-dasharray="11 9" stroke-dashoffset="18.5"/>
<g font-size="11">
<text x="786.4" y="56.2" fill="#5b3ea6" stroke="#5b3ea6" stroke-width="0.35" textLength="78.4" lengthAdjust="spacingAndGlyphs">1.414(0.030249)</text>
<text x="786.4" y="87.4" fill="#5b3ea6" stroke="#5b3ea6" stroke-width="0.35" textLength="78.4" lengthAdjust="spacingAndGlyphs">1.272(0.029429)</text>
<text x="1036" y="95.2" fill="#cc1f2b" stroke="#cc1f2b" stroke-width="0.35" textLength="78.9" lengthAdjust="spacingAndGlyphs">0.786(0.028867)</text>
<text x="1036" y="171.0" fill="#2020a8" stroke="#2020a8" stroke-width="0.35" textLength="78.6" lengthAdjust="spacingAndGlyphs">1.618(0.026872)</text>
<text x="1036" y="198.7" fill="#c41e2e" stroke="#c41e2e" stroke-width="0.35" textLength="78.6" lengthAdjust="spacingAndGlyphs">0.618(0.026148)</text>
<text x="1036" y="219.6" fill="#6cb86c" stroke="#6cb86c" stroke-width="0.35" textLength="78.6" lengthAdjust="spacingAndGlyphs">0.236(0.025592)</text>
<text x="1036" y="270.0" fill="#6cb86c" stroke="#6cb86c" stroke-width="0.35" textLength="78.6" lengthAdjust="spacingAndGlyphs">0.382(0.024238)</text>
<text x="922.5" y="304.0" fill="#3a8fd8" stroke="#3a8fd8" stroke-width="0.35" textLength="78.2" lengthAdjust="spacingAndGlyphs">1.272(0.023709)</text>
<text x="1047.8" y="312.2" fill="#6cb86c" stroke="#6cb86c" stroke-width="0.35" textLength="67.3" lengthAdjust="spacingAndGlyphs">0.5(0.023143)</text>
<text x="922.5" y="346.4" fill="#3a8fd8" stroke="#3a8fd8" stroke-width="0.35" textLength="78.2" lengthAdjust="spacingAndGlyphs">1.618(0.022592)</text>
<text x="1035.8" y="353.2" fill="#6cb86c" stroke="#6cb86c" stroke-width="0.35" textLength="79.2" lengthAdjust="spacingAndGlyphs">0.618(0.022049)</text>
</g>
<text clip-path="url(#pc)" x="143" y="559.5" font-size="11" fill="#3b2d9e" textLength="78" lengthAdjust="spacingAndGlyphs">1.618(0.016969)</text>
<line x1="6.0" y1="576.5" x2="1120.0" y2="576.5" stroke="#d2d2d2" stroke-width="1" stroke-dasharray="2.5 2.5"/>
<line x1="6.0" y1="625.5" x2="1120.0" y2="625.5" stroke="#d2d2d2" stroke-width="1" stroke-dasharray="2.5 2.5"/>
<line x1="6.0" y1="600.2" x2="1123.0" y2="600.2" stroke="#111" stroke-width="2"/>
<polyline points="6.0,587.5 16.6,586.5 25.6,589.6 34.7,585.5 43.8,584.5 52.8,580.4 61.9,582.8 71.0,588.2 80.0,582.8 89.1,580.4 98.2,578.7 107.3,587.2 115.0,587.9 123.7,606.5 133.9,617.0 142.4,610.3 151.5,618.4 161.0,610.3 169.5,608.6 179.0,614.3 187.5,614.7 197.6,620.4 206.8,613.3 216.0,604.5 223.7,605.2 233.9,610.9 242.4,609.9 252.5,614.3 261.0,619.4 270.2,621.1 278.0,605.2 288.0,603.1 296.6,600.8 305.8,608.2 314.6,600.1 323.7,605.8 333.9,600.8 342.4,603.5 351.5,620.4 361.0,627.9 369.5,629.6 378.6,631.6 388.0,632.0 390.0,631.3 414.4,634.0 423.9,629.6 433.4,630.6 442.5,627.5 451.0,627.5 459.5,621.4 468.6,595.0 478.1,595.3 487.3,602.5 496.1,596.4 505.3,593.3 514.4,592.3 523.9,594.0 533.0,588.9 541.9,583.8 551.0,615.3 559.5,616.0 568.6,611.6 578.1,610.3 587.3,604.8 596.1,600.1 605.3,606.5 614.4,583.1 623.9,582.1 632.4,584.2 641.5,579.7 650.3,576.0 659.5,587.9 668.6,585.8 678.1,584.2 687.3,584.8 696.8,584.8 705.3,589.9 714.4,592.6 723.9,584.8 733.1,602.5 741.9,609.2 751.0,612.0 759.5,592.3 769.0,596.7 778.1,589.9 787.5,581.1 797.0,579.4 806.4,577.0 814.9,572.0 823.4,568.9 831.9,566.9 841.0,572.0 850.2,572.6 859.7,572.0 868.8,569.2 877.6,564.2 886.8,563.8 895.9,562.1 905.4,574.3 914.6,583.1 923.4,578.1 931.9,577.0 941.7,587.2 950.5,588.6 959.7,584.8 968.8,587.9 978.3,585.2 986.8,587.2 995.9,601.8 1004.7,609.6 1013.9,605.8 1023.4,607.9" fill="none" stroke="#c9b52e" stroke-width="1.8" stroke-linejoin="round" />
<rect x="6.0" y="656" width="1115.0" height="39.3" fill="#e8cffd"/>
<line x1="6.0" y1="656" x2="1121.0" y2="656" stroke="#b87ed0" stroke-width="1" stroke-dasharray="3 3"/>
<line x1="6.0" y1="695.3" x2="1121.0" y2="695.3" stroke="#b87ed0" stroke-width="1" stroke-dasharray="3 3"/>
<polyline points="6.8,652.0 17.0,646.9 33.9,645.2 50.8,644.2 67.8,645.8 88.1,646.9 101.7,645.8 115.3,648.6 125.4,658.7 139.0,685.8 149.2,699.4 162.7,702.8 179.7,697.7 196.6,701.1 215.3,702.1 230.5,692.6 250.8,687.5 264.4,690.9 278.0,694.3 288.1,687.5 301.7,660.4 315.3,652.0 327.1,653.6 339.0,652.0 350.8,657.0 362.7,675.7 376.3,699.4 386.4,706.9 415.4,707.2 440.8,704.5 457.8,701.1 471.4,685.8 483.2,663.8 495.1,650.3 512.0,645.2 532.4,643.5 544.2,645.2 556.1,657.0 569.7,670.6 583.2,677.4 603.6,679.1 617.1,672.3 630.7,658.7 640.8,648.6 651.0,644.5 668.0,648.6 684.9,652.6 705.3,654.7 723.9,658.0 739.2,672.3 751.0,689.2 761.2,697.7 769.7,696.0 779.8,679.1 790.2,668.9 800.3,653.6 812.2,645.2 827.5,643.5 844.4,645.8 864.7,649.2 881.7,646.9 900.3,644.5 910.5,652.0 922.4,667.2 939.3,685.8 952.9,697.7 964.7,704.5 976.6,705.2 993.6,705.2 1005.4,706.9 1022.4,706.9" fill="none" stroke="#bdb070" stroke-width="1.1" stroke-linejoin="round" />
<polyline points="6.8,648.6 15.3,645.8 33.9,645.2 52.5,643.5 71.2,647.9 86.4,647.5 96.6,643.5 108.5,647.9 117.0,653.6 132.2,685.8 142.4,704.5 150.8,704.5 161.0,701.1 178.0,697.7 188.1,700.1 198.3,705.2 210.2,701.1 225.4,690.3 244.0,687.5 252.5,688.2 271.2,700.4 281.4,689.2 296.6,650.3 306.8,653.6 315.3,651.3 323.7,656.0 333.9,649.6 342.4,652.0 352.5,663.8 369.5,707.9 390.0,707.9 415.4,707.9 434.1,705.5 451.0,703.8 461.2,697.7 471.4,668.9 487.6,646.9 505.3,646.9 515.4,643.5 542.5,644.2 552.7,653.6 569.7,676.7 586.6,678.4 605.3,681.4 613.7,668.9 623.9,657.0 633.4,644.2 651.0,644.5 661.2,647.9 678.1,653.6 688.3,652.6 698.5,653.6 712.0,658.7 723.9,659.4 732.4,675.7 751.0,707.9 768.0,687.5 778.1,668.9 788.5,658.7 797.0,647.9 807.1,643.5 824.1,643.5 841.0,646.9 858.0,649.6 871.5,647.9 885.1,645.2 895.3,643.5 907.1,653.6 922.4,679.1 939.3,690.9 949.5,701.1 959.7,706.2 969.8,706.2 983.4,705.2 995.3,704.5 1003.7,706.9 1022.4,706.9" fill="none" stroke="#8f8cf0" stroke-width="1.1" stroke-linejoin="round" />
<line x1="6.0" y1="557.5" x2="1123.0" y2="557.5" stroke="#222" stroke-width="2"/>
<line x1="1123.0" y1="557.5" x2="1174.0" y2="557.5" stroke="#444" stroke-width="1.5"/>
<line x1="6.0" y1="639.0" x2="1174.0" y2="639.0" stroke="#3a3a3a" stroke-width="1.8"/>
<line x1="6.0" y1="712.6" x2="1174.0" y2="712.6" stroke="#333" stroke-width="1.6"/>
<line x1="1123.0" y1="39.5" x2="1123.0" y2="734.5" stroke="#555" stroke-width="1.6"/>
<rect x="6.0" y="39.5" width="1168.0" height="695.0" rx="2" fill="none" stroke="#333" stroke-width="1.6"/>
<g>
<line x1="1123.0" y1="54.2" x2="1127.2" y2="54.2" stroke="#333" stroke-width="1"/>
<text x="1129.9" y="57.9" fill="#222" stroke="#222" stroke-width="0.2" font-size="10.2" textLength="36.6" lengthAdjust="spacingAndGlyphs">0.030000</text>
<line x1="1123.0" y1="92.0" x2="1127.2" y2="92.0" stroke="#333" stroke-width="1"/>
<text x="1129.9" y="95.7" fill="#222" stroke="#222" stroke-width="0.2" font-size="10.2" textLength="36.6" lengthAdjust="spacingAndGlyphs">0.029000</text>
<line x1="1123.0" y1="129.9" x2="1127.2" y2="129.9" stroke="#333" stroke-width="1"/>
<text x="1129.9" y="133.6" fill="#222" stroke="#222" stroke-width="0.2" font-size="10.2" textLength="36.6" lengthAdjust="spacingAndGlyphs">0.028000</text>
<line x1="1123.0" y1="167.7" x2="1127.2" y2="167.7" stroke="#333" stroke-width="1"/>
<text x="1129.9" y="171.4" fill="#222" stroke="#222" stroke-width="0.2" font-size="10.2" textLength="36.6" lengthAdjust="spacingAndGlyphs">0.027000</text>
<line x1="1123.0" y1="205.6" x2="1127.2" y2="205.6" stroke="#333" stroke-width="1"/>
<text x="1129.9" y="209.3" fill="#222" stroke="#222" stroke-width="0.2" font-size="10.2" textLength="36.6" lengthAdjust="spacingAndGlyphs">0.026000</text>
<line x1="1123.0" y1="319.1" x2="1127.2" y2="319.1" stroke="#333" stroke-width="1"/>
<text x="1129.9" y="322.8" fill="#222" stroke="#222" stroke-width="0.2" font-size="10.2" textLength="36.6" lengthAdjust="spacingAndGlyphs">0.023000</text>
<line x1="1123.0" y1="357.0" x2="1127.2" y2="357.0" stroke="#333" stroke-width="1"/>
<text x="1129.9" y="360.7" fill="#222" stroke="#222" stroke-width="0.2" font-size="10.2" textLength="36.6" lengthAdjust="spacingAndGlyphs">0.022000</text>
<line x1="1123.0" y1="394.8" x2="1127.2" y2="394.8" stroke="#333" stroke-width="1"/>
<text x="1129.9" y="398.5" fill="#222" stroke="#222" stroke-width="0.2" font-size="10.2" textLength="36.6" lengthAdjust="spacingAndGlyphs">0.021000</text>
<line x1="1123.0" y1="432.7" x2="1127.2" y2="432.7" stroke="#333" stroke-width="1"/>
<text x="1129.9" y="436.4" fill="#222" stroke="#222" stroke-width="0.2" font-size="10.2" textLength="36.6" lengthAdjust="spacingAndGlyphs">0.020000</text>
<line x1="1123.0" y1="546.2" x2="1127.2" y2="546.2" stroke="#333" stroke-width="1"/>
<text x="1129.9" y="549.9" fill="#222" stroke="#222" stroke-width="0.2" font-size="10.2" textLength="36.6" lengthAdjust="spacingAndGlyphs">0.017000</text>
<rect x="1123.0" y="57.7" width="51.0" height="11.5" fill="#000"/>
<text x="1129.9" y="67.2" fill="#fff" stroke="#fff" stroke-width="0.2" font-size="10.2" textLength="36.6" lengthAdjust="spacingAndGlyphs">0.029738</text>
<rect x="1123.0" y="128.5" width="51.0" height="12.5" fill="#ff9a1a"/>
<text x="1129.9" y="138.4" fill="#fff" stroke="#fff" stroke-width="0.2" font-size="10.2" textLength="36.6" lengthAdjust="spacingAndGlyphs">0.027865</text>
<rect x="1123.0" y="213.5" width="51.0" height="11.9" fill="#d21212"/>
<text x="1129.9" y="223.1" fill="#fff" stroke="#fff" stroke-width="0.2" font-size="10.2" textLength="36.6" lengthAdjust="spacingAndGlyphs">0.025616</text>
<rect x="1123.0" y="240" width="51.0" height="12.1" fill="#f58512"/>
<text x="1129.9" y="249.8" fill="#fff" stroke="#fff" stroke-width="0.2" font-size="10.2" textLength="36.6" lengthAdjust="spacingAndGlyphs">0.025000</text>
<rect x="1123.0" y="276.5" width="51.0" height="12.0" fill="#000"/>
<text x="1129.9" y="286.2" fill="#fff" stroke="#fff" stroke-width="0.2" font-size="10.2" textLength="36.6" lengthAdjust="spacingAndGlyphs">0.023950</text>
<rect x="1123.0" y="356.7" width="51.0" height="11.4" fill="#23232f"/>
<text x="1129.9" y="366.1" fill="#fff" stroke="#fff" stroke-width="0.2" font-size="10.2" textLength="36.6" lengthAdjust="spacingAndGlyphs">0.021840</text>
<rect x="1123.0" y="408.8" width="51.0" height="12.4" fill="#2a3fc8"/>
<text x="1129.9" y="418.7" fill="#fff" stroke="#fff" stroke-width="0.2" font-size="10.2" textLength="36.6" lengthAdjust="spacingAndGlyphs">0.020463</text>
<rect x="1123.0" y="439" width="51.0" height="12.5" fill="#6472e4"/>
<text x="1129.9" y="448.9" fill="#fff" stroke="#fff" stroke-width="0.2" font-size="10.2" textLength="36.6" lengthAdjust="spacingAndGlyphs">0.019662</text>
<rect x="1123.0" y="463.5" width="51.0" height="12.3" fill="#000"/>
<text x="1129.9" y="473.3" fill="#fff" stroke="#fff" stroke-width="0.2" font-size="10.2" textLength="36.6" lengthAdjust="spacingAndGlyphs">0.019016</text>
<rect x="1123.0" y="480" width="51.0" height="12.1" fill="#d6a012"/>
<text x="1129.9" y="489.8" fill="#fff" stroke="#fff" stroke-width="0.2" font-size="10.2" textLength="36.6" lengthAdjust="spacingAndGlyphs">0.018588</text>
<rect x="1123.0" y="505" width="51.0" height="13.1" fill="#5a70e2"/>
<text x="1129.9" y="515.2" fill="#fff" stroke="#fff" stroke-width="0.2" font-size="10.2" textLength="36.6" lengthAdjust="spacingAndGlyphs">0.017906</text>
<rect x="1123.0" y="533.1" width="51.0" height="11.4" fill="#000"/>
<text x="1129.9" y="542.5" fill="#fff" stroke="#fff" stroke-width="0.2" font-size="10.2" textLength="36.6" lengthAdjust="spacingAndGlyphs">0.017191</text>
<rect x="1129.2" y="227.5" width="44.8" height="11.9" fill="#d21212"/>
<text x="1132.5" y="237.0" fill="#fff" font-size="9.6" textLength="33.5" lengthAdjust="spacingAndGlyphs">14:15:55</text>
</g>
<line x1="1123.0" y1="575.8" x2="1127.2" y2="575.8" stroke="#333" stroke-width="1"/>
<text x="1129.9" y="579.4" fill="#222" font-size="9.6" textLength="22.4" lengthAdjust="spacingAndGlyphs">80.00</text>
<line x1="1123.0" y1="608.4" x2="1127.2" y2="608.4" stroke="#333" stroke-width="1"/>
<text x="1129.9" y="612.0" fill="#222" font-size="9.6" textLength="22.4" lengthAdjust="spacingAndGlyphs">40.00</text>
<rect x="1123" y="593.8" width="36" height="12.4" fill="#000"/>
<text x="1129.9" y="603.3" fill="#fff" stroke="#fff" stroke-width="0.2" font-size="9.6" textLength="22.4" lengthAdjust="spacingAndGlyphs">50.00</text>
<line x1="1123.0" y1="655.8" x2="1127.2" y2="655.8" stroke="#333" stroke-width="1"/>
<text x="1129.9" y="659.4" fill="#222" font-size="9.6" textLength="22.4" lengthAdjust="spacingAndGlyphs">80.00</text>
<line x1="1123.0" y1="682.3" x2="1127.2" y2="682.3" stroke="#333" stroke-width="1"/>
<text x="1129.9" y="685.9" fill="#222" font-size="9.6" textLength="22.4" lengthAdjust="spacingAndGlyphs">40.00</text>
<line x1="1123.0" y1="707.4" x2="1127.2" y2="707.4" stroke="#333" stroke-width="1"/>
<text x="1129.9" y="711.0" fill="#222" font-size="9.6" textLength="17.0" lengthAdjust="spacingAndGlyphs">0.00</text>
<line x1="107.2" y1="712.6" x2="107.2" y2="715.8" stroke="#333" stroke-width="1"/>
<line x1="216.4" y1="712.6" x2="216.4" y2="715.8" stroke="#333" stroke-width="1"/>
<line x1="288.1" y1="712.6" x2="288.1" y2="715.8" stroke="#333" stroke-width="1"/>
<line x1="416.3" y1="712.6" x2="416.3" y2="715.8" stroke="#333" stroke-width="1"/>
<line x1="497.3" y1="712.6" x2="497.3" y2="715.8" stroke="#333" stroke-width="1"/>
<line x1="606.4" y1="712.6" x2="606.4" y2="715.8" stroke="#333" stroke-width="1"/>
<line x1="678.3" y1="712.6" x2="678.3" y2="715.8" stroke="#333" stroke-width="1"/>
<line x1="779.4" y1="712.6" x2="779.4" y2="715.8" stroke="#333" stroke-width="1"/>
<line x1="860.7" y1="712.6" x2="860.7" y2="715.8" stroke="#333" stroke-width="1"/>
<line x1="933.3" y1="712.6" x2="933.3" y2="715.8" stroke="#333" stroke-width="1"/>
<line x1="1042.2" y1="712.6" x2="1042.2" y2="715.8" stroke="#333" stroke-width="1"/>
<line x1="1114.8" y1="712.6" x2="1114.8" y2="715.8" stroke="#333" stroke-width="1"/>
<text x="102.5" y="728.0" fill="#1a1a1a" stroke="#1a1a1a" stroke-width="0.2" font-size="9.8" textLength="9.0" lengthAdjust="spacingAndGlyphs">19</text>
<text x="285.8" y="728.0" fill="#1a1a1a" stroke="#1a1a1a" stroke-width="0.2" font-size="9.8" textLength="4.6" lengthAdjust="spacingAndGlyphs">9</text>
<text x="411.2" y="728.0" fill="#1a1a1a" stroke="#1a1a1a" stroke-width="0.2" font-size="9.8" textLength="9.0" lengthAdjust="spacingAndGlyphs">23</text>
<text x="601.9" y="728.0" fill="#1a1a1a" stroke="#1a1a1a" stroke-width="0.2" font-size="9.8" textLength="9.0" lengthAdjust="spacingAndGlyphs">13</text>
<text x="673.8" y="728.0" fill="#1a1a1a" stroke="#1a1a1a" stroke-width="0.2" font-size="9.8" textLength="9.0" lengthAdjust="spacingAndGlyphs">21</text>
<text x="856.2" y="728.0" fill="#1a1a1a" stroke="#1a1a1a" stroke-width="0.2" font-size="9.8" textLength="9.0" lengthAdjust="spacingAndGlyphs">10</text>
<text x="928.8" y="728.0" fill="#1a1a1a" stroke="#1a1a1a" stroke-width="0.2" font-size="9.8" textLength="9.0" lengthAdjust="spacingAndGlyphs">18</text>
<text x="1112.5" y="728.0" fill="#1a1a1a" stroke="#1a1a1a" stroke-width="0.2" font-size="9.8" textLength="4.6" lengthAdjust="spacingAndGlyphs">9</text>
<rect x="8.1" y="714.7" width="48.9" height="15.2" fill="#dcdcdc"/>
<text x="12.7" y="725.3" fill="#1a1a1a" stroke="#1a1a1a" stroke-width="0.2" font-size="9.4" textLength="40.7" lengthAdjust="spacingAndGlyphs">01 Nov '19</text>
<rect x="190.8" y="714.7" width="49.9" height="15.2" fill="#dcdcdc"/>
<text x="196" y="725.3" fill="#1a1a1a" stroke="#1a1a1a" stroke-width="0.2" font-size="9.4" textLength="41.3" lengthAdjust="spacingAndGlyphs">01 Dec '19</text>
<rect x="464" y="713.6" width="64.5" height="19.9" fill="#fde6ef"/>
<rect x="472.2" y="714.7" width="49.5" height="15.2" fill="#e9b93a"/>
<text x="477.6" y="725.3" fill="#1a1a1a" stroke="#1a1a1a" stroke-width="0.2" font-size="9.4" textLength="39.7" lengthAdjust="spacingAndGlyphs">01 Jan '20</text>
<rect x="752.9" y="714.7" width="50.5" height="15.2" fill="#dcdcdc"/>
<text x="757.5" y="725.3" fill="#1a1a1a" stroke="#1a1a1a" stroke-width="0.2" font-size="9.4" textLength="42.4" lengthAdjust="spacingAndGlyphs">01 Feb '20</text>
<rect x="1015.8" y="714.7" width="49.6" height="15.2" fill="#dcdcdc"/>
<text x="1021.2" y="725.3" fill="#1a1a1a" stroke="#1a1a1a" stroke-width="0.2" font-size="9.4" textLength="41.2" lengthAdjust="spacingAndGlyphs">01 Mar '20</text>
<text x="1033.9" y="728.0" fill="#2a2a2a" fill-opacity="0.8" font-size="9.8" textLength="13.5" lengthAdjust="spacingAndGlyphs">Mar</text>
<rect x="0" y="744.2" width="31.6" height="15.4" fill="#cdf7fb"/>
<g fill="#4b6bee"><circle cx="9.3" cy="754.6" r="3.4"/><circle cx="14.8" cy="749.4" r="4.6"/><circle cx="20.2" cy="751.6" r="3.2"/><circle cx="24.6" cy="754.2" r="3.8"/><rect x="8.6" y="752.6" width="16.5" height="5.4"/></g>
<path d="M6.6 756.6 L12.8 751.9 L13.2 750.3 Q14.6 748.9 15.9 750.3 L16.6 752.3 L19.8 755.8 L26.4 749.6" fill="none" stroke="#cdf7fb" stroke-width="1.1"/>
<circle cx="20.1" cy="755.9" r="1.1" fill="#cdf7fb"/>
<text x="32" y="754.9" fill="#222" stroke="#222" stroke-width="0.25" font-size="11.8" textLength="63.1" lengthAdjust="spacingAndGlyphs">TradingView</text>
</svg>
</body></html>
